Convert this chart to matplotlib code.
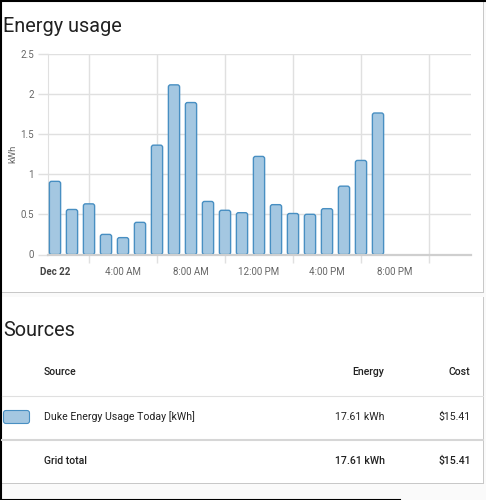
import matplotlib
matplotlib.use("Agg")
import matplotlib.pyplot as plt
from matplotlib.patches import Rectangle, FancyBboxPatch

plt.rcParams["font.family"] = ["Roboto", "DejaVu Sans"]

# hourly usage for Dec 22 (hour 0 = midnight)
hours = list(range(20))
usage_kwh = [0.91, 0.56, 0.63, 0.25, 0.21, 0.40, 1.36, 2.11, 1.89, 0.66,
             0.55, 0.52, 1.22, 0.62, 0.51, 0.50, 0.57, 0.85, 1.17, 1.76]
x_tick_hours = [0, 4, 8, 12, 16, 20]
x_tick_labels = ["Dec 22", "4:00 AM", "8:00 AM", "12:00 PM", "4:00 PM", "8:00 PM"]
grid_hours = [2, 6, 10, 14, 18, 22]
y_ticks = [0, 0.5, 1, 1.5, 2, 2.5]
y_tick_labels = ["0", "0.5", "1", "1.5", "2", "2.5"]

table_headers = ["Source", "Energy", "Cost"]
source_names = ["Duke Energy Usage Today [kWh]"]
source_energy = ["17.61 kWh"]
source_cost = ["$15.41"]
total_label = "Grid total"
total_energy = "17.61 kWh"
total_cost = "$15.41"

FILL = "#a4c7e1"
EDGE = "#488fc2"
TEXT = "#212121"
TICK = "#666666"
GRID = "#e0e0e0"

W, H = 486, 500
fig = plt.figure(figsize=(W / 100, H / 100), dpi=100)
fig.patch.set_facecolor("#fafafa")

# background canvas in pixel coordinates
bg = fig.add_axes([0, 0, 1, 1])
bg.set_xlim(0, W)
bg.set_ylim(H, 0)
bg.axis("off")

# cards + shadows
bg.add_patch(Rectangle((1, 1), 483, 292, facecolor="#c8c8c8", edgecolor="none"))
bg.add_patch(Rectangle((1, 1), 482, 291, facecolor="white", edgecolor="none"))
bg.add_patch(Rectangle((1, 297), 483, 187, facecolor="#c8c8c8", edgecolor="none"))
bg.add_patch(Rectangle((1, 297), 482, 186, facecolor="white", edgecolor="none"))
# screenshot border
bg.plot([0.5, 0.5], [0, H], color="black", lw=1.5)
bg.plot([0, W], [0.5, 0.5], color="black", lw=1.5)
bg.plot([0, 400], [499.5, 499.5], color="black", lw=1.5)

bg.text(3, 32, "Energy usage", fontsize=14.3, color=TEXT, va="baseline", ha="left")
bg.text(3, 335.5, "Sources", fontsize=14.3, color=TEXT, va="baseline", ha="left")

# table
fs = 7.6
bg.text(44, 372, table_headers[0], fontsize=fs, color=TEXT, fontweight="medium", va="center")
bg.text(384.5, 372, table_headers[1], fontsize=fs, color=TEXT, fontweight="medium", va="center", ha="right")
bg.text(470.5, 372, table_headers[2], fontsize=fs, color=TEXT, fontweight="medium", va="center", ha="right")
bg.plot([2, 483], [395.5, 395.5], color=GRID, lw=0.8)
for i, name in enumerate(source_names):
    yy = 417 + i * 44
    bg.add_patch(FancyBboxPatch((3.5, yy - 6.5), 26, 13, boxstyle="round,pad=0,rounding_size=2.5",
                                facecolor=FILL, edgecolor=EDGE, lw=0.8))
    bg.text(44, yy, name, fontsize=fs, color=TEXT, va="center")
    bg.text(384.5, yy, source_energy[i], fontsize=fs, color=TEXT, va="center", ha="right")
    bg.text(470.5, yy, source_cost[i], fontsize=fs, color=TEXT, va="center", ha="right")
bg.plot([2, 483], [439.5, 439.5], color="#d6d6d6", lw=1.5)
bg.text(44, 461, total_label, fontsize=fs, color=TEXT, fontweight="medium", va="center")
bg.text(384.5, 461, total_energy, fontsize=fs, color=TEXT, fontweight="medium", va="center", ha="right")
bg.text(470.5, 461, total_cost, fontsize=fs, color=TEXT, fontweight="medium", va="center", ha="right")

# chart
x0_px, step_px = 55, 17
left_px, right_px, top_px, bottom_px = 48, 471, 53.5, 254.5
ax = fig.add_axes([left_px / W, 1 - bottom_px / H, (right_px - left_px) / W, (bottom_px - top_px) / H])
ax.set_facecolor("none")
ax.set_xlim((left_px - x0_px) / step_px, (right_px - x0_px) / step_px)
ax.set_ylim(0, 2.5)

# bars with slightly rounded corners (like chart.js borderRadius)
bars = ax.bar(hours, usage_kwh, width=0.66, color=FILL, edgecolor=EDGE, linewidth=1.0, zorder=3)
px_per_y = (bottom_px - top_px) / 2.5
for r in bars.patches:
    r.set_visible(False)
    ax.add_patch(FancyBboxPatch((r.get_x(), r.get_y()), r.get_width(), r.get_height(),
                                boxstyle="round,pad=0,rounding_size=0.13",
                                mutation_aspect=step_px / px_per_y,
                                facecolor=FILL, edgecolor=EDGE, linewidth=1.0, zorder=3))

ax.set_xticks(x_tick_hours)
ax.set_xticklabels(x_tick_labels)
ax.set_xticks(grid_hours, minor=True)
ax.tick_params(axis="x", which="major", length=0, pad=9, labelsize=7, labelcolor=TICK)
ax.tick_params(axis="x", which="minor", length=6, width=1, color=GRID)
ax.get_xticklabels()[0].set_fontweight("bold")
ax.get_xticklabels()[0].set_color("#444444")
ax.set_yticks(y_ticks)
ax.set_yticklabels(y_tick_labels)
ax.tick_params(axis="y", length=7, width=1, color=GRID, pad=3, labelsize=7, labelcolor=TICK)
ax.grid(axis="y", color=GRID, lw=1, zorder=0)
ax.grid(axis="x", which="minor", color=GRID, lw=1, zorder=0)
for s in ["top", "right"]:
    ax.spines[s].set_visible(False)
ax.spines["left"].set_color(GRID)
ax.spines["bottom"].set_color("#cfcfcf")
ax.spines["bottom"].set_linewidth(1.6)
ax.spines["bottom"].set_zorder(4)
ax.set_axisbelow(True)
ax.set_ylabel("kWh", fontsize=6.8, color=TICK)
ax.yaxis.set_label_coords(-31 / (right_px - left_px), 0.5)

fig.savefig("out.png", dpi=100, facecolor=fig.get_facecolor())
